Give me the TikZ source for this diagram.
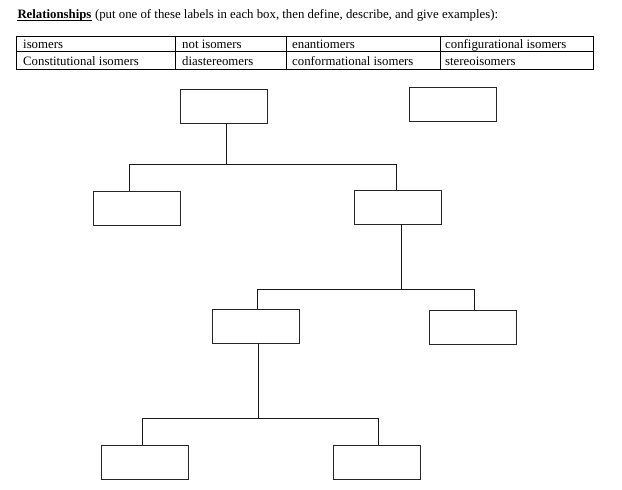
\documentclass[tikz,border=0pt]{standalone}
\usepackage{fontspec}
\setmainfont{Liberation Serif}
\usetikzlibrary{calc}

\tikzset{
  blank/.style={draw=black!85, line width=0.9pt, minimum width=87pt, minimum height=34pt, inner sep=0pt},
  link/.style={line width=0.9pt, black!90},
  cell/.style={anchor=base west, inner sep=0pt, font=\fontsize{12.8}{15}\selectfont},
}

\begin{document}
\begin{tikzpicture}[x=1pt, y=-1pt]
	%%%%% START %%%%%
	\useasboundingbox (0, 0) rectangle (622, 490);

	% heading
	\node[cell] (ttl) at (17.3, 18.3) {\textbf{Relationships}};
	\node[cell] (ttlrest) at (ttl.base east) {~(put one of these labels in each box, then define, describe, and give examples):};
	\draw[line width=0.8pt] ($(ttl.base west)+(0, 2.4)$) -- ($(ttl.base east)+(0, 2.4)$);

	% word bank
	\draw[line width=1pt] (16.7, 36) rectangle (593.3, 69);
	\draw[line width=1pt] (16.7, 51.7) -- (593.3, 51.7);
	\draw[line width=1pt] (175.7, 36) -- (175.7, 69);
	\draw[line width=1pt] (286.7, 36) -- (286.7, 69);
	\draw[line width=1pt] (440, 36) -- (440, 69);

	\node[cell] (w1) at (23, 48.3) {isomers};
	\node[cell] (w2) at (182, 48.3) {not isomers};
	\node[cell] (w3) at (292, 48.3) {enantiomers};
	\node[cell] (w4) at (445, 48.3) {configurational isomers};
	\node[cell] (w5) at (23, 65.3) {Constitutional isomers};
	\node[cell] (w6) at (182, 65.3) {diastereomers};
	\node[cell] (w7) at (292, 65.3) {conformational isomers};
	\node[cell] (w8) at (445, 65.3) {stereoisomers};

	% empty boxes
	\node[blank] (top) at (224, 106) {};
	\node[blank] (spare) at (453, 104.3) {};
	\node[blank] (left) at (137, 208) {};
	\node[blank] (right) at (398, 207) {};
	\node[blank] (midl) at (255.8, 326) {};
	\node[blank] (midr) at (473, 327) {};
	\node[blank] (lowl) at (144.8, 462) {};
	\node[blank] (lowr) at (376.8, 462) {};

	% branches
	\coordinate (jtop) at (226, 164.3);
	\coordinate (jright) at (401.3, 289.3);
	\coordinate (jmid) at (258.3, 418.3);

	\draw[link] ([xshift=2pt]top.south) -- (jtop);
	\draw[link] ([xshift=-8pt]left.north) |- (jtop) -| ([xshift=-2pt]right.north);

	\draw[link] ([xshift=3.3pt]right.south) -- (jright);
	\draw[link] ([xshift=1.5pt]midl.north) |- (jright) -| ([xshift=1.7pt]midr.north);

	\draw[link] ([xshift=2.5pt]midl.south) -- (jmid);
	\draw[link] ([xshift=-2pt]lowl.north) |- (jmid) -| ([xshift=1.2pt]lowr.north);
	%%%%% END %%%%%
\end{tikzpicture}
\end{document}
